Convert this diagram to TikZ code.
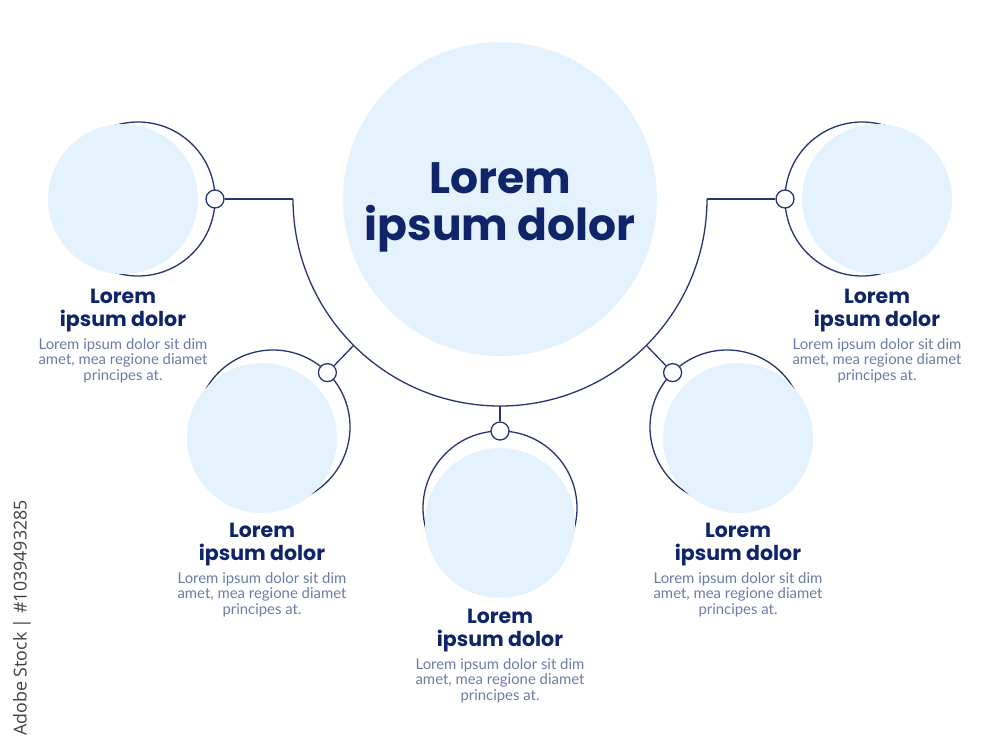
\documentclass[tikz,border=0pt]{standalone}
\usepackage{fontspec}
\newfontfamily\titlefont{Poppins}
\newfontfamily\bodyfont{Lato}
\newfontfamily\markfont{Open Sans}
\definecolor{navy}{HTML}{26346F}
\definecolor{titleblue}{HTML}{10246A}
\definecolor{bodyblue}{HTML}{6A7CA6}
\definecolor{paleblue}{HTML}{E4F2FD}
\begin{document}
\begin{tikzpicture}[x=1pt,y=-1pt,
  ring/.style={circle, draw=navy, line width=1.3pt, minimum size=154pt, inner sep=0pt},
  disc/.style={circle, fill=paleblue, minimum size=150pt, inner sep=0pt},
  dot/.style={circle, draw=navy, fill=white, line width=1.3pt, minimum size=18pt, inner sep=0pt},
  link/.style={draw=navy, line width=1.3pt},
  maintitle/.style={anchor=north, inner sep=0pt, align=center, text=titleblue,
    font=\titlefont\bfseries\fontsize{44}{47}\selectfont},
  itemtitle/.style={anchor=north, inner sep=0pt, align=center, text=titleblue,
    font=\titlefont\bfseries\fontsize{20.5}{23}\selectfont},
  itembody/.style={anchor=north, inner sep=0pt, align=center, text=bodyblue,
    font=\bodyfont\fontsize{14.9}{15.5}\selectfont}]
\useasboundingbox (0,0) rectangle (1000,750);

% central disc and arc
\node[disc, minimum size=314pt] (main) at (500,199) {};
\coordinate (aL) at (293,199);
\coordinate (aR) at (707,199);
\coordinate (aML) at (353.6,345.4);
\coordinate (aMR) at (646.4,345.4);
\coordinate (aB) at (500,406);
\draw[link] (aL) arc[start angle=180, end angle=0, radius=207];

% rings
\node[ring] (rTL) at (138,199) {};
\node[ring] (rML) at (273,427) {};
\node[ring] (rB)  at (500,508) {};
\node[ring] (rMR) at (727,427) {};
\node[ring] (rTR) at (862,199) {};

% discs
\node[disc] (dTL) at (123,199) {};
\node[disc] (dML) at (262,438) {};
\node[disc] (dB)  at (500,523) {};
\node[disc] (dMR) at (738,438) {};
\node[disc] (dTR) at (877,199) {};

% small dots
\node[dot] (pTL) at (215,199) {};
\node[dot] (pML) at (327.4,372.6) {};
\node[dot] (pB)  at (500,431) {};
\node[dot] (pMR) at (672.6,372.6) {};
\node[dot] (pTR) at (785,199) {};

% connectors
\draw[link] (pTL) -- (aL);
\draw[link] (pTR) -- (aR);
\draw[link] (pML) -- (aML);
\draw[link] (pMR) -- (aMR);
\draw[link] (pB) -- (aB);

% texts
\node[maintitle] (tmain) at (500,162) {Lorem\\ipsum dolor};

\node[itemtitle] (tTL) at (123,289) {Lorem\\ipsum dolor};
\node[itembody] (bTL) at (123,338) {Lorem ipsum dolor sit dim\\amet, mea regione diamet\\principes at.};
\node[itemtitle] (tTR) at (877,289) {Lorem\\ipsum dolor};
\node[itembody] (bTR) at (877,338) {Lorem ipsum dolor sit dim\\amet, mea regione diamet\\principes at.};
\node[itemtitle] (tML) at (262,523) {Lorem\\ipsum dolor};
\node[itembody] (bML) at (262,572) {Lorem ipsum dolor sit dim\\amet, mea regione diamet\\principes at.};
\node[itemtitle] (tMR) at (738,523) {Lorem\\ipsum dolor};
\node[itembody] (bMR) at (738,572) {Lorem ipsum dolor sit dim\\amet, mea regione diamet\\principes at.};
\node[itemtitle] (tB) at (500,609) {Lorem\\ipsum dolor};
\node[itembody] (bB) at (500,658) {Lorem ipsum dolor sit dim\\amet, mea regione diamet\\principes at.};

\node[rotate=90, text=black!75, font=\markfont\fontsize{17.8}{20}\selectfont] (wm) at (22,618) {Adobe Stock | \#1039493285};
\end{tikzpicture}
\end{document}
